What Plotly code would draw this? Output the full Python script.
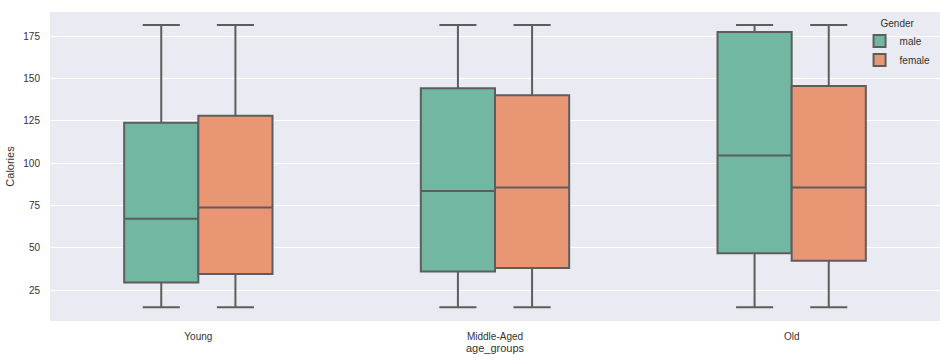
import plotly.graph_objects as go

categories = ["Young", "Middle-Aged", "Old"]
genders = ["male", "female"]

male_low = [14.8, 14.8, 14.8]
male_q1 = [29.5, 36.0, 46.7]
male_med = [67.1, 83.5, 104.5]
male_q3 = [123.8, 144.1, 177.4]
male_high = [181.5, 181.5, 181.5]

female_low = [14.8, 14.8, 14.8]
female_q1 = [34.4, 38.0, 42.3]
female_med = [73.8, 85.6, 85.6]
female_q3 = [127.9, 140.0, 145.5]
female_high = [181.5, 181.5, 181.5]

y_ticks = [25, 50, 75, 100, 125, 150, 175]

colors = {"male": "#71b7a2", "female": "#e99675"}
line_col = "#5d5d5d"
font_fam = "Liberation Sans, Arial, sans-serif"

stats = {
    "male": (male_low, male_q1, male_med, male_q3, male_high),
    "female": (female_low, female_q1, female_med, female_q3, female_high),
}

fig = go.Figure()
for g in genders:
    lo, q1, med, q3, hi = stats[g]
    fig.add_trace(go.Box(
        name=g, x=categories, q1=q1, median=med, q3=q3,
        lowerfence=lo, upperfence=hi,
        fillcolor=colors[g], line=dict(color=line_col, width=2),
        whiskerwidth=0.5, boxpoints=False, opacity=1,
    ))

fig.update_layout(
    width=940, height=362,
    margin=dict(l=50, r=0, t=12, b=41),
    paper_bgcolor="white", plot_bgcolor="#eaeaf2",
    boxmode="group", boxgap=0.5, boxgroupgap=0,
    font=dict(family=font_fam, size=10, color="#333333"),
    showlegend=True,
    legend=dict(
        title=dict(text="Gender", side="top center", font=dict(size=10, color="#333333")),
        x=0.995, y=0.995, xanchor="right", yanchor="top",
        bgcolor="rgba(0,0,0,0)", font=dict(size=10, color="#333333"),
        itemsizing="constant", tracegroupgap=0,
    ),
)
fig.update_xaxes(
    range=[-0.5, 2.5], showgrid=False, zeroline=False, showline=False,
    ticks="", ticklabelstandoff=8,
    title=dict(text="age_groups", font=dict(size=11, color="#333333"), standoff=3),
    automargin=False,
)
fig.update_yaxes(
    range=[6.7, 189.2], tickvals=y_ticks, showgrid=True, gridcolor="white",
    gridwidth=1, zeroline=False, showline=False, ticks="", ticklabelstandoff=9,
    title=dict(text="Calories", font=dict(size=11, color="#333333"), standoff=6),
    automargin=False,
)

fig.write_html("out.html")
